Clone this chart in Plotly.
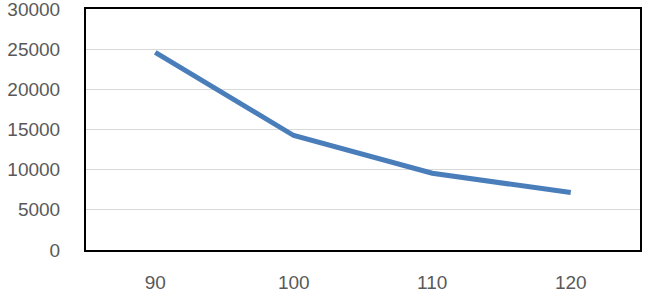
import plotly.graph_objects as go

categories = ["90", "100", "110", "120"]
values = [24600, 14250, 9550, 7150]
y_ticks = [0, 5000, 10000, 15000, 20000, 25000, 30000]

fig = go.Figure()
fig.add_trace(go.Scatter(
    x=categories, y=values, mode="lines",
    line=dict(color="#4A7EBB", width=5),
    showlegend=False,
))

font = dict(family="Liberation Sans, Arial, sans-serif", size=19, color="#595959")

fig.update_layout(
    width=650, height=296,
    margin=dict(l=86, r=10, t=9, b=46, autoexpand=False),
    paper_bgcolor="white", plot_bgcolor="white",
    font=font,
)
fig.update_xaxes(
    type="category", range=[-0.5, 3.5], automargin=False,
    showgrid=False, showline=True, linecolor="black", linewidth=2, mirror=True,
    ticks="", ticklabelstandoff=14, tickfont=font,
)
fig.update_yaxes(
    range=[0, 30000], tickvals=y_ticks, ticktext=[str(v) for v in y_ticks],
    automargin=False, ticklabeloverflow="allow",
    showgrid=True, gridcolor="#D9D9D9", gridwidth=1, zeroline=False,
    showline=True, linecolor="black", linewidth=2, mirror=True,
    ticks="", ticklabelstandoff=20, tickfont=font,
)

fig.write_html("out.html")
